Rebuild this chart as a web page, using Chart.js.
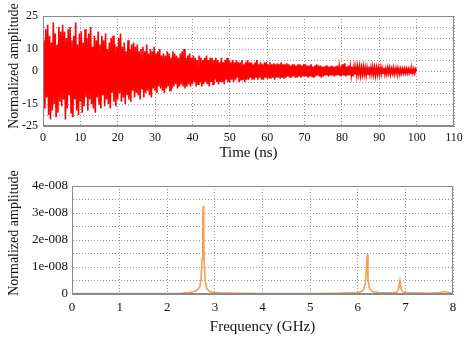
<!DOCTYPE html>
<html>
<head>
<meta charset="utf-8">
<script src="https://cdn.jsdelivr.net/npm/chart.js@4/dist/chart.umd.min.js"></script>
<style>
html,body{margin:0;padding:0;background:#fff;width:474px;height:355px;overflow:hidden}
canvas{position:absolute;left:0}
#c1{top:0}
#c2{top:165px}
</style>
</head>
<body>
<canvas id="c1" width="474" height="165"></canvas>
<canvas id="c2" width="474" height="190"></canvas>
<script>
// ---------- Top panel: time-domain signal (sampled every 0.25 ns, 0..100 ns) ----------
const sampleStepNs = 0.25;
const signal = [
  0, 14, -17, 19, -12, 21, -20, 16, -22, 13, -18, 22, -15, 17, -21, 12, -19, 20, -14, 18,
  -16, 21, -13, 18, -22, 15, -17, 19, -11, 20, -19, 14, -21, 16, -13, 22, -18, 12, -20, 17,
  -14, 18, -19, 13, -16, 19, -12, 15, -18, 17, -13, 20, -15, 11, -17, 16, -19, 14, -12, 18,
  -15, 12, -17, 16, -11, 14, -16, 17, -13, 10, -15, 13, -17, 15, -10, 16, -14, 12, -16, 11,
  -13, 15, -10, 17, -14, 11, -12, 13, -15, 9, -11, 14, -13, 10, -14, 12, -9, 13, -12, 11,
  -10, 12, -11, 9, -13, 10, -8, 11, -12, 9, -10, 12, -9, 8, -11, 10, -12, 9, -8, 11,
  -9, 8, -10, 9, -7, 10, -8, 7, -9, 8, -10, 7, -8, 9, -7, 8, -9, 6, -8, 9,
  -7, 8, -6, 7, -8, 6, -7, 8, -6, 9, -7, 10, -8, 6, -7, 7, -6, 8, -7, 6,
  -6, 7, -5, 6, -7, 5, -6, 7, -5, 6, -7, 5, -6, 6, -5, 7, -6, 5, -7, 6,
  -5, 6, -6, 5, -4, 6, -5, 5, -6, 4, -5, 6, -5, 4, -6, 5, -4, 6, -5, 5,
  -5, 4, -4, 5, -5, 4, -4, 5, -3, 4, -5, 4, -4, 5, -4, 3, -5, 4, -4, 5,
  -4, 4, -3, 4, -4, 3, -4, 4, -3, 5, -4, 3, -3, 4, -4, 3, -4, 4, -3, 4,
  -3.5, 3, -3, 4, -3.5, 3, -3, 3.5, -4, 3, -3, 3.5, -3, 3, -3.5, 4, -3, 3, -3.5, 3,
  -3, 3.5, -2.5, 3, -3, 2.5, -3, 3, -2.5, 3, -3, 2.5, -3, 3, -2.5, 3, -3, 2.5, -2.5, 3,
  -2.5, 3, -2.5, 2.5, -3, 2.5, -2.5, 3, -2.5, 2, -3, 2.5, -2.5, 3, -2, 2.5, -2.5, 2.5, -3, 2,
  -2.5, 2, -2, 2.5, -2, 2, -2.5, 2, -2, 2.5, -2, 2, -2.5, 2, -2, 2.5, -2, 2, -2, 2.5,
  -2, 3, -2, 3.5, -2.5, 2, -2, 2.5, -2, 2, -2, 2, -2.5, 2, -1.5, 2, -2, 2, -1.5, 2,
  -2, 1.5, -1.5, 2, -1.5, 1.5, -2, 1.5, -1.5, 2, -1.5, 1.5, -1.5, 2, -1.5, 1.5, -2, 1.5, -1.5, 1.5,
  -1.5, 1.5, -1.5, 1.5, -1, 1.5, -1.5, 1, -1.5, 1.5, -1, 1.5, -1.5, 1, -1, 1.5, -1.5, 1, -1, 1.5,
  -1, 1, -1.5, 1, -1, 1, -1, 1, -1, 1, -1, 1, -1, 1, -1, 1, -1, 1, -1, 1,
  0
];
const timeTickLabels = [25, 10, 0, -15, -25];

// ---------- Bottom panel: spectrum ----------
const freqGHz = [0, 0.5, 1.0, 1.5, 2.0, 2.3, 2.45, 2.55, 2.62, 2.68, 2.71, 2.73, 2.745, 2.755, 2.765, 2.78, 2.8, 2.83, 2.88, 2.95, 3.1, 3.5, 4.0, 4.5, 5.0, 5.5, 5.9, 6.05, 6.12, 6.16, 6.185, 6.2, 6.215, 6.25, 6.32, 6.45, 6.7, 6.82, 6.86, 6.885, 6.905, 6.95, 7.1, 7.5, 7.7, 7.8, 7.84, 7.9, 8.0];
const spectrumAmp = [2e-10, 2e-10, 2e-10, 2e-10, 2e-10, 3e-10, 5e-10, 8e-10, 1.3e-9, 2.5e-9, 5.5e-9, 1.3e-8, 2.6e-8, 3.27e-8, 2.4e-8, 1.0e-8, 4.5e-9, 2e-9, 1e-9, 6e-10, 4e-10, 3e-10, 2e-10, 2e-10, 2e-10, 3e-10, 4e-10, 7e-10, 1.5e-9, 4e-9, 1.07e-8, 1.47e-8, 5e-9, 1.8e-9, 8e-10, 5e-10, 4e-10, 7e-10, 2e-9, 4.9e-9, 2e-9, 7e-10, 4e-10, 3e-10, 4e-10, 8e-10, 9e-10, 5e-10, 3e-10];
const ampTickLabels = ['0', '1e-008', '2e-008', '3e-008', '4e-008'];

const SERIF = '"Liberation Serif", "Times New Roman", serif';

const framePlugin = {
  id: 'frameTitles',
  afterDraw(chart, args, opts) {
    const { ctx, chartArea } = chart;
    ctx.save();
    ctx.strokeStyle = '#8a8a8a';
    ctx.lineWidth = 1;
    const l = Math.round(chartArea.left) + 0.5, t = Math.round(chartArea.top) + 0.5;
    const r = Math.round(chartArea.right) - 0.5, b = Math.round(chartArea.bottom) - 0.5;
    ctx.strokeRect(l, t, r - l, b - t);
    ctx.translate(opts.x, opts.y);
    ctx.rotate(-Math.PI / 2);
    ctx.font = '14px ' + SERIF;
    ctx.fillStyle = '#111';
    ctx.textAlign = 'center';
    ctx.textBaseline = 'middle';
    ctx.fillText(opts.text, 0, 0);
    ctx.restore();
  }
};

const gridCommon = { color: '#9a9a9a', lineWidth: 1, drawTicks: false };
const borderCommon = { color: '#8a8a8a', width: 1, dash: [1, 2] };

new Chart(document.getElementById('c1'), {
  type: 'line',
  data: {
    datasets: [{
      data: signal.map((v, i) => ({ x: i * sampleStepNs, y: v })),
      borderColor: '#ff0000',
      borderWidth: 1.6,
      pointRadius: 0,
      tension: 0,
      fill: false
    }]
  },
  options: {
    responsive: false,
    animation: false,
    events: [],
    layout: { padding: { top: 16, right: 20, left: 0, bottom: 0 } },
    plugins: {
      legend: { display: false },
      tooltip: { enabled: false },
      frameTitles: { x: 14, y: 66, text: 'Normalized amplitude' }
    },
    scales: {
      x: {
        type: 'linear', min: 0, max: 110,
        grid: gridCommon, border: borderCommon,
        afterFit: s => { s.height = 39; },
        ticks: { stepSize: 10, autoSkip: false, maxRotation: 0, maxTicksLimit: 20, padding: 5,
          color: '#111', font: { family: SERIF, size: 12 } },
        title: { display: true, text: 'Time (ns)', color: '#111',
          font: { family: SERIF, size: 15 }, padding: { top: 0, bottom: 3 } }
      },
      y: {
        type: 'linear', min: -25, max: 25,
        grid: gridCommon, border: borderCommon,
        afterFit: s => { s.width = 43; },
        ticks: { stepSize: 5, autoSkip: false, maxTicksLimit: 20, padding: 5,
          color: '#111', font: { family: SERIF, size: 12 },
          callback: v => timeTickLabels.includes(v) ? String(v) : '' }
      }
    }
  },
  plugins: [framePlugin]
});

new Chart(document.getElementById('c2'), {
  type: 'line',
  data: {
    datasets: [{
      data: freqGHz.map((f, i) => ({ x: f, y: spectrumAmp[i] })),
      borderColor: '#f0a050',
      borderWidth: 1.6,
      pointRadius: 0,
      tension: 0,
      fill: false
    }]
  },
  options: {
    responsive: false,
    animation: false,
    events: [],
    layout: { padding: { top: 21, right: 21, left: 0, bottom: 0 } },
    plugins: {
      legend: { display: false },
      tooltip: { enabled: false },
      frameTitles: { x: 14, y: 68, text: 'Normalized amplitude' }
    },
    scales: {
      x: {
        type: 'linear', min: 0, max: 8,
        grid: gridCommon, border: borderCommon,
        afterFit: s => { s.height = 61; },
        ticks: { stepSize: 1, autoSkip: false, maxRotation: 0, padding: 6,
          color: '#111', font: { family: SERIF, size: 13 } },
        title: { display: true, text: 'Frequency (GHz)', color: '#111',
          font: { family: SERIF, size: 15 }, padding: { top: 0, bottom: 19 } }
      },
      y: {
        type: 'linear', min: 0, max: 4e-8,
        grid: gridCommon, border: borderCommon,
        afterFit: s => { s.width = 72; },
        ticks: { stepSize: 5e-9, autoSkip: false, maxTicksLimit: 20, padding: 4,
          color: '#111', font: { family: SERIF, size: 13 },
          callback: v => {
            const k = Math.round(v / 5e-9);
            return k % 2 === 0 ? ampTickLabels[k / 2] : '';
          } }
      }
    }
  },
  plugins: [framePlugin]
});
</script>
</body>
</html>
